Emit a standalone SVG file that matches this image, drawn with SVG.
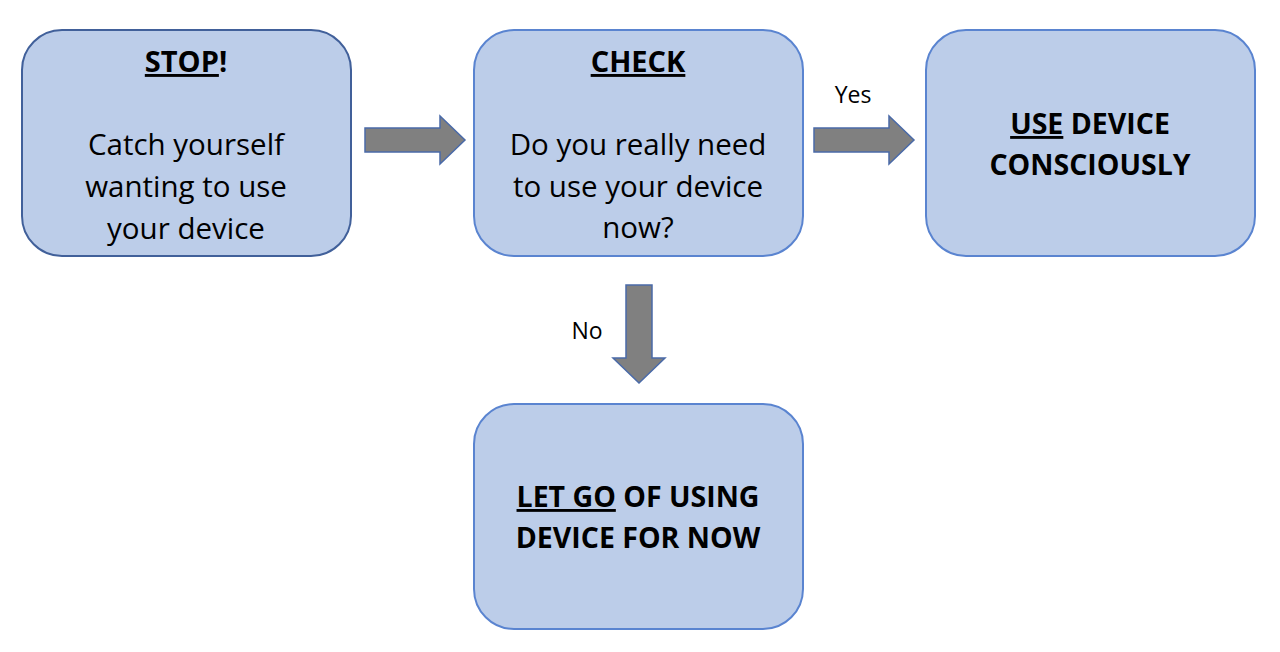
<svg xmlns="http://www.w3.org/2000/svg" width="1280" height="652" viewBox="0 0 1280 652">
<style>
.box{fill:#BCCDE9;stroke:#5A84D0;stroke-width:2}
.t{font-family:"Open Sans","Noto Sans",sans-serif;font-size:29.5px;fill:#000;text-anchor:middle}
.b{font-weight:bold;font-size:28.5px}
.h{font-size:29px}
.u{text-decoration:underline}
.lbl{font-family:"Open Sans","Noto Sans",sans-serif;font-size:23px;fill:#000;text-anchor:middle}
.arr{fill:#808080;stroke:#4A6AA8;stroke-width:1.5;stroke-linejoin:miter}
</style>
<rect width="1280" height="652" fill="#fff"/>
<g id="node-stop">
<rect class="box" x="22" y="30" width="329" height="226" rx="40" style="stroke:#41609A"/>
<text class="t b h" x="186" y="72"><tspan class="u">STOP</tspan>!</text>
<text class="t" x="186" y="155">Catch yourself</text>
<text class="t" x="186" y="197">wanting to use</text>
<text class="t" x="186" y="239">your device</text>
</g>
<g id="node-check">
<rect class="box" x="474" y="30" width="329" height="226" rx="40"/>
<text class="t b h u" x="638" y="72">CHECK</text>
<text class="t" x="638" y="155">Do you really need</text>
<text class="t" x="638" y="197">to use your device</text>
<text class="t" x="638" y="238">now?</text>
</g>
<g id="node-use">
<rect class="box" x="926" y="30" width="329" height="226" rx="40"/>
<text class="t b" x="1090" y="134"><tspan class="u">USE</tspan> DEVICE</text>
<text class="t b" x="1090" y="175">CONSCIOUSLY</text>
</g>
<g id="node-letgo">
<rect class="box" x="474" y="404" width="329" height="225" rx="40"/>
<text class="t b" x="638" y="507"><tspan class="u">LET GO</tspan> OF USING</text>
<text class="t b" x="638" y="548">DEVICE FOR NOW</text>
</g>
<g id="connectors">
<polygon class="arr" points="365,128 440,128 440,116 465,140 440,164 440,152 365,152"/>
<polygon class="arr" points="814,128 889,128 889,116 914,140 889,164 889,152 814,152"/>
<polygon class="arr" points="626,285 652,285 652,358 665,358 639,383 613,358 626,358"/>
<text class="lbl" x="853" y="103">Yes</text>
<text class="lbl" x="587" y="339">No</text>
</g>
</svg>
